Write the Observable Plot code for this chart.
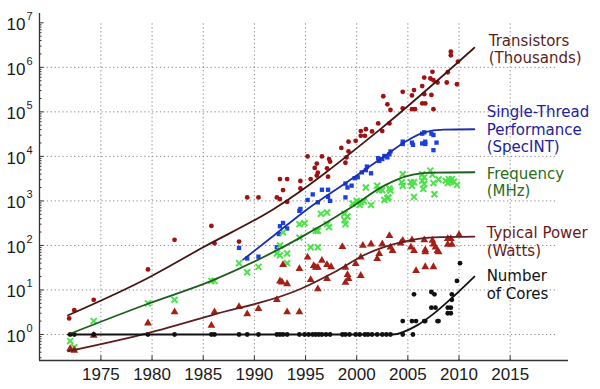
<!DOCTYPE html>
<html><head><meta charset="utf-8">
<script src="https://cdn.jsdelivr.net/npm/d3@7"></script>
<script src="https://cdn.jsdelivr.net/npm/@observablehq/plot@0.6"></script>
<style>html,body{margin:0;padding:0;background:#fff}#chart svg{display:block}</style>
</head><body><div id="chart"></div>
<script>
// ---- Data (year, value) ----
const transistors = [
[1971.9,2.3],[1972.4,3.5],[1974.3,6],[1979.6,29],[1982.2,134],[1985.8,275],[1986.1,112],[1988.5,122],
[1989.3,1200],[1990.4,1200],[1992.2,1200],[1992.5,1100],[1992.5,3100],[1992.8,1750],[1993.2,3100],[1993.2,950],
[1994.5,2800],[1994.5,1900],[1995.2,10000],[1995.5,3100],[1995.9,5500],[1996.1,6900],[1996.1,3700],[1996.2,4300],
[1996.6,10000],[1997.1,5400],[1997.2,3500],[1997.3,8700],[1997.4,7600],[1998.5,15500],[1998.9,7200],[1999.0,9500],
[1999.2,21400],[1999.2,12900],[1999.9,22400],[2000.4,37000],[2000.4,29000],[2000.8,29000],[2000.9,40700],[2001.5,36300],
[2002.1,55000],[2002.5,37000],[2002.6,224000],[2003.0,148000],[2003.2,55000],[2003.3,110000],[2004.5,282000],[2004.5,120000],
[2005.4,234000],[2005.4,115000],[2005.6,309000],[2005.7,115000],[2006.4,380000],[2006.4,155000],[2006.6,589000],[2006.6,250000],
[2006.7,155000],[2007.2,562000],[2007.3,240000],[2007.4,794000],[2007.5,513000],[2007.5,115000],[2007.9,457000],[2008.8,457000],
[2008.9,776000],[2009.2,2240000],[2009.2,1860000],[2009.8,417000],[2009.9,1350000]
];
const performance = [
[1988.5,88],[1989.3,51],[1990.4,56],[1992.2,91],[1992.4,180],[1992.5,270],[1992.8,320],[1993.2,240],[1994.4,600],[1994.5,660],
[1995.2,1050],[1995.7,1400],[1996.2,930],[1996.6,1780],[1997.2,1780],[1997.2,1230],[1997.4,1000],[1998.9,2450],[1999.1,2000],[1998.9,1200],
[1999.5,2200],[1999.8,3240],[2000.1,3400],[2000.5,4370],[2000.9,4900],[2001.0,5900],[2001.4,4170],[2002.1,9100],[2002.2,7900],[2002.5,8700],
[2002.7,10200],[2003.0,9500],[2003.2,11200],[2003.3,12900],[2004.5,19000],[2004.5,21400],[2005.4,20400],[2005.5,18200],[2006.4,32400],
[2006.6,34700],[2006.4,19500],[2006.7,21400],[2006.7,19000],[2007.3,32400],[2007.5,30200],[2007.8,20400],[2007.5,13800]
];
const frequency = [
[1972.0,0.71],[1972.4,0.52],[1974.3,2.0],[1979.6,5.0],[1982.2,6],[1985.8,16],[1986.1,16],[1988.5,40],[1989.3,25],[1990.4,33],
[1992.2,66],[1992.5,60],[1992.5,100],[1992.8,197],[1993.2,66],[1993.2,40],[1994.4,300],[1994.4,150],[1994.9,316],[1995.5,91],[1996.2,91],
[1996.0,214],[1996.2,214],[1996.5,513],[1997.1,550],[1997.1,300],[1997.3,257],[1998.8,513],[1999.1,447],[1998.8,372],[1998.9,300],
[1999.6,870],[2000.0,1000],[2000.4,933],[2000.7,977],[2001.4,813],[2000.3,813],[2000.9,2000],[2002.0,2190],[2002.2,1740],
[2002.5,1740],[2002.7,1050],[2003.0,1150],[2003.1,1200],[2003.2,1900],[2003.3,1700],[2004.4,2630],[2004.5,2190],[2004.5,3980],
[2005.3,2630],[2005.6,2630],[2005.4,2190],[2005.6,1230],[2006.4,3980],[2006.6,3390],[2006.4,2820],[2006.6,2400],[2006.5,1860],
[2007.2,4790],[2007.4,3890],[2007.5,2510],[2007.6,1410],[2008.0,3020],[2008.7,2820],[2009.0,3090],[2009.2,2690],[2008.9,2510],
[2009.3,3090],[2009.5,2690],[2009.8,2290]
];
const power = [
[1972.0,0.48],[1972.4,0.44],[1974.3,0.95],[1979.6,1.8],[1982.2,3.2],[1985.8,1.6],[1986.1,3.2],[1988.5,4.2],[1989.3,2.9],[1990.4,3.8],
[1992.2,6],[1992.5,15.8],[1992.7,15],[1992.8,37],[1993.2,13.7],[1993.2,3.2],[1994.4,30],[1994.4,3.2],
[1995.2,54],[1995.8,35],[1996.0,32],[1996.2,32],[1996.6,46],[1997.1,37],[1997.5,33],[1995.5,17],[1996.2,10.5],[1997.1,17.8],
[1998.6,93],[1998.9,32],[1999.1,22],[1999.2,17.8],[1998.9,14.8],[1999.9,39],[2000.4,54],[2000.4,21],[2000.6,100],[2001.4,107],
[2002.0,50],[2002.2,65],[2002.5,107],[2003.2,166],[2003.3,91],[2003.5,76],[2004.3,112],[2004.5,129],[2005.4,132],[2005.3,91],
[2005.6,76],[2005.8,27],[2006.6,132],[2006.7,79],[2006.7,71],[2006.7,33],[2007.4,129],[2007.5,107],[2007.7,91],[2007.9,76],
[2008.0,71],[2007.5,33],[2008.9,141],[2009.2,141],[2008.9,105],[2009.3,105],[2010.0,174]
];
const cores = [
[1972.0,1],[1972.4,1],[1974.3,1],[1979.6,1],[1982.2,1],[1985.8,1],[1986.1,1],[1988.5,1],[1989.3,1],[1990.4,1],
[1992.2,1],[1992.5,1],[1992.8,1],[1993.2,1],[1994.4,1],[1994.9,1],[1995.3,1],[1995.7,1],[1996.0,1],[1996.3,1],
[1996.6,1],[1997.0,1],[1997.4,1],[1998.6,1],[1998.9,1],[1999.3,1],[1999.9,1],[2000.3,1],[2000.8,1],[2001.1,1],
[2001.5,1],[2002.0,1],[2002.5,1],[2002.9,1],[2003.3,1],[2004.5,1],[2005.5,1],
[2004.5,2],[2005.4,2],[2005.8,2],[2005.6,8],[2006.6,2],[2006.7,2],[2007.3,4],[2007.7,4],[2007.3,9],[2007.6,8],
[2007.9,2],[2008.0,2],[2008.9,4],[2009.2,4],[2008.9,3],[2009.2,3],[2009.3,6],[2009.3,8],[2009.8,16],[2010.1,40]
];
// trend lines
const transistorsTrend = [[1971.8,2.7],[1979.6,18.6],[1985,91],[1991.9,660],[2002.2,38900],[2011.5,2750000]];
const performanceTrend = [[1988.9,48],[1992,174],[1995.2,660],[1999,2600],[2003,11200],[2004.9,22400],[2006.6,34700],[2008.5,39800],[2011.5,40700]];
const frequencyTrend = [[1971.8,1.0],[1979.6,4.9],[1985.8,16],[1994.5,150],[1999.4,700],[2002.7,2200],[2004.9,3600],[2007.5,4300],[2011.5,4400]];
const powerTrend = [[1971.8,0.42],[1979.6,1.07],[1985.8,2.7],[1994.5,10.5],[1997.8,25],[2001.0,65],[2004.3,117],[2007.5,152],[2011.5,158]];
const coresTrend = [[1971.8,1],[2003.5,1],[2005.9,1.6],[2007.5,2.9],[2009.2,6.3],[2011.5,20]];

// labels
const seriesLabels = ["Transistors\n(Thousands)", "Single-Thread\nPerformance\n(SpecINT)", "Frequency\n(MHz)", "Typical Power\n(Watts)", "Number\nof Cores"];
const labelYears = [2012.9, 2012.7, 2012.7, 2012.7, 2012.7];
const labelValues = [5.8e6, 1.43e5, 5930, 275, 29.3];
const labelColors = ["#5a1d1d", "#22229a", "#2b6b1b", "#6a1818", "#111111"];

const xTickYears = [1975, 1980, 1985, 1990, 1995, 2000, 2005, 2010, 2015];
const yTickDecades = [0, 1, 2, 3, 4, 5, 6, 7];
const gridDecades = [0, 1, 2, 3, 4, 5, 6];

const xDomain = [1969, 2020.7];
const yDomain = [0.2606, 1.618e7];
const gridEnd = 2019.7;
const gridTop = 1e7;

const minorTicks = [];
for (let k = -1; k <= 7; k++) for (let m = 2; m <= 9; m++) {
  const v = m * 10 ** k;
  if (v >= yDomain[0] && v <= yDomain[1]) minorTicks.push(v);
}

const X = d => d[0], Y = d => d[1];
const gridStyle = {stroke: "#8c8c8c", strokeDasharray: "1.3,2.6", strokeWidth: 1};

const marks = [
  Plot.ruleY(gridDecades.map(d => 10 ** d), {x1: xDomain[0], x2: gridEnd, ...gridStyle}),
  Plot.ruleX(xTickYears, {y1: yDomain[0], y2: gridTop, ...gridStyle}),
  Plot.ruleX([xDomain[0]], {stroke: "#333", strokeWidth: 1.3}),
  Plot.ruleY([yDomain[0]], {stroke: "#333", strokeWidth: 1.3}),
  Plot.axisY({ticks: yTickDecades.map(d => 10 ** d), tickSize: 4.5, dx: 4.5, fill: "none", stroke: "#333", label: null}),
  Plot.axisY({ticks: minorTicks, tickSize: 2.5, dx: 2.5, fill: "none", stroke: "#333", label: null}),
  Plot.axisX({ticks: xTickYears, tickSize: 4.5, dy: -4.5, fill: "none", stroke: "#333", label: null}),
  Plot.axisX({ticks: xTickYears, tickSize: 0, tickPadding: 7, tickFormat: d => String(d), fontSize: 17, fill: "#1a1a1a", label: null}),
  Plot.text(yTickDecades, {x: xDomain[0], y: d => 10 ** d, text: () => "10", textAnchor: "end", dx: -14, dy: 2, fontSize: 17, fill: "#1a1a1a"}),
  Plot.text(yTickDecades, {x: xDomain[0], y: d => 10 ** d, text: d => String(d), textAnchor: "start", dx: -13, dy: -6, fontSize: 11, fill: "#1a1a1a"}),
  // points
  Plot.dot(transistors, {x: X, y: Y, r: 2.4, fill: "#a01212"}),
  Plot.dot(performance, {x: X, y: Y, r: 2.45, symbol: "square", fill: "#1c3fe0"}),
  Plot.dot(frequency, {x: X, y: Y, r: 2.8, symbol: "times", stroke: "#4ce24a", strokeWidth: 2}),
  Plot.dot(power, {x: X, y: Y, r: 2.9, symbol: "triangle", fill: "#a61f17"}),
  Plot.dot(cores, {x: X, y: Y, r: 2.4, fill: "#111"}),
  // trend lines
  Plot.line(transistorsTrend, {x: X, y: Y, curve: "monotone-x", stroke: "#461414", strokeWidth: 1.8}),
  Plot.line(performanceTrend, {x: X, y: Y, curve: "monotone-x", stroke: "#1b2fae", strokeWidth: 1.8}),
  Plot.line(frequencyTrend, {x: X, y: Y, curve: "monotone-x", stroke: "#1d5e1d", strokeWidth: 1.8}),
  Plot.line(powerTrend, {x: X, y: Y, curve: "monotone-x", stroke: "#5e1e1e", strokeWidth: 1.8}),
  Plot.line(coresTrend, {x: X, y: Y, curve: "monotone-x", stroke: "#111", strokeWidth: 1.8}),
  // series labels
  ...seriesLabels.map((t, i) => Plot.text([t], {
    x: labelYears[i], y: labelValues[i], text: d => d, textAnchor: "start", lineAnchor: "top",
    lineHeight: 1.155, fontSize: 15, fontFamily: "'DejaVu Sans', Verdana, sans-serif", fill: labelColors[i]
  }))
];

const chart = Plot.plot({
  width: 600, height: 389,
  marginLeft: 39, marginRight: 32, marginTop: 13, marginBottom: 29,
  x: {domain: xDomain, axis: null},
  y: {type: "log", domain: yDomain, axis: null},
  style: {background: "#fff", fontFamily: "'Liberation Sans', Arial, Helvetica, sans-serif", overflow: "visible"},
  marks
});
document.getElementById("chart").appendChild(chart);
</script>
</body></html>
